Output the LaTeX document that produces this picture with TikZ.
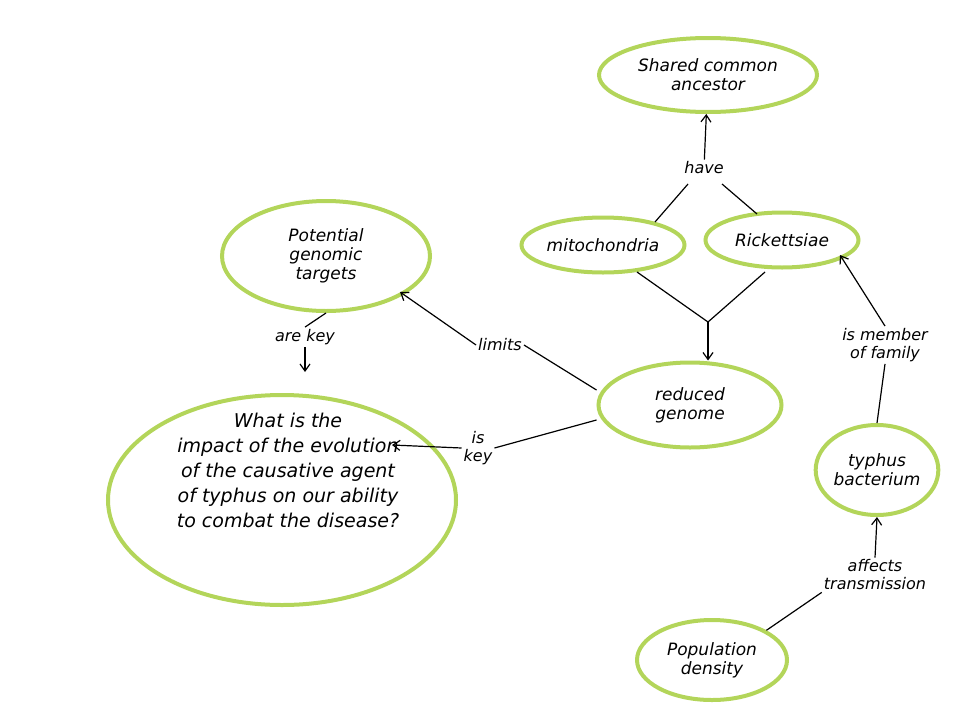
\documentclass[tikz,border=0pt]{standalone}
\usepackage{fontspec}
\setmainfont{DejaVu Sans}
\usetikzlibrary{shapes.geometric,arrows.meta}
\definecolor{lime}{HTML}{B3D55A}
\tikzset{
  concept/.style={ellipse,draw=lime,line width=4pt,align=center,font=\itshape\fontsize{17}{19}\selectfont,inner sep=0pt},
  lbl/.style={align=center,font=\itshape\fontsize{16}{18}\selectfont,inner sep=2pt,fill=white},
  conn/.style={line width=1.2pt,black},
  arr/.style={conn,-{Straight Barb[length=7pt,width=10pt]}}
}
\begin{document}
\begin{tikzpicture}[x=1pt,y=-1pt]
\useasboundingbox (0,0) rectangle (960,720);
\node[concept,minimum width=218pt,minimum height=74pt] (sca) at (708,75) {Shared common\\ancestor};
\node[concept,minimum width=163pt,minimum height=55pt] (mit) at (603,245) {mitochondria};
\node[concept,minimum width=153pt,minimum height=55pt] (ric) at (782,240) {Rickettsiae};
\node[concept,minimum width=208pt,minimum height=110pt] (pgt) at (326,256) {Potential\\genomic\\targets};
\node[concept,minimum width=183pt,minimum height=85pt] (rg) at (690,405) {reduced\\genome};
\node[concept,minimum width=348pt,minimum height=210pt] (q) at (282,500) {};
\node[align=center,font=\itshape\fontsize{19}{25}\selectfont] (qt) at (288,470) {What is the\\impact of the evolution\\of the causative agent\\of typhus on our ability\\to combat the disease?};
\node[concept,minimum width=113pt,minimum height=90pt] (tb) at (877,470) {typhus\\bacterium};
\node[concept,minimum width=150pt,minimum height=80pt] (pd) at (712,660) {Population\\density};

\node[lbl] (have) at (704,168) {have};
\node[lbl] (lim) at (500,345) {limits};
\node[lbl] (ak) at (305,337) {are key};
\node[lbl] (ik) at (478,448) {is\\key};
\node[lbl] (mem) at (885,345) {is member\\of family};
\node[lbl] (aff) at (875,575) {affects\\transmission};
\coordinate (j) at (708,322);
\coordinate (hl) at (688,184);
\coordinate (hr) at (722,184);

\draw[arr] (have) -- (sca);
\draw[conn] (655,222) -- (hl);
\draw[conn] (757,214) -- (hr);
\draw[conn] (637,272) -- (j);
\draw[conn] (765,272) -- (j);
\draw[arr] (j) -- (rg.north -| j);
\draw[conn] (rg.west) ++(0,-15) -- (lim.east);
\draw[arr] (lim.west) -- (400,292);
\draw[conn] (pgt.south) -- (ak.north);
\draw[arr] (ak.south) -- (305,372);
\draw[conn] (rg.west) ++(0,15) -- (ik.east);
\draw[arr] (ik.west) -- (392,445);
\draw[conn] (tb.north) -- (mem.south);
\draw[arr] (mem.north) -- (840,255);
\draw[conn] (pd.north east) -- (aff.south west);
\draw[arr] (aff.north) -- (tb.south);
\end{tikzpicture}
\end{document}
